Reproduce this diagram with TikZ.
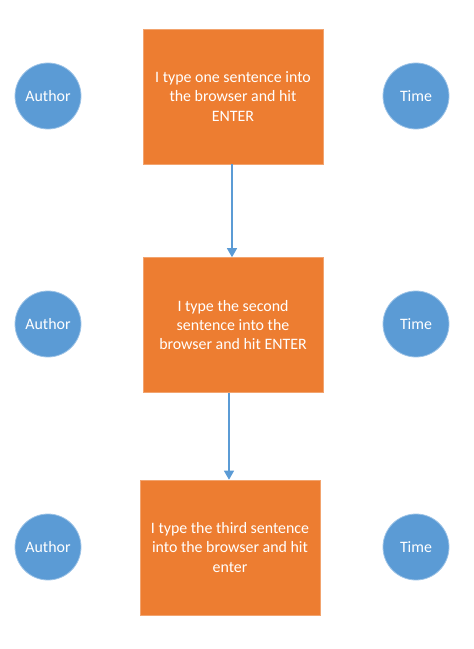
\documentclass[tikz,border=0pt]{standalone}
\usepackage{fontspec}
\setmainfont{Carlito}
\usetikzlibrary{arrows.meta}
\definecolor{offorange}{HTML}{ED7D31}
\definecolor{offblue}{HTML}{5B9BD5}
\tikzset{
  stepbox/.style={draw=offorange!70!white, line width=0.6bp, fill=offorange, text=white, minimum width=180bp, minimum height=135bp, align=center, font=\fontsize{15.9bp}{19.3bp}\selectfont, inner sep=0pt},
  roundel/.style={circle, fill=offblue, draw=offblue!60!white, line width=0.8bp, text=white, minimum size=66bp, inner sep=0pt, font=\fontsize{15.9bp}{18bp}\selectfont},
  flow/.style={draw=offblue, line width=1.2bp, -{Triangle[length=9bp,width=10bp]}}
}
\begin{document}
\begin{tikzpicture}[x=1bp,y=-1bp]
\useasboundingbox (0,0) rectangle (474,649);
\node[stepbox] (b1) at (233,96.5) {I type one sentence into\\the browser and hit\\ENTER};
\node[stepbox] (b2) at (233,325) {I type the second\\sentence into the\\browser and hit ENTER};
\node[stepbox] (b3) at (230,547.5) {I type the third sentence\\into the browser and hit\\enter};
\node[roundel] (a1) at (48,96) {Author};
\node[roundel] (t1) at (416,96) {Time};
\node[roundel] (a2) at (48,324) {Author};
\node[roundel] (t2) at (416,324) {Time};
\node[roundel] (a3) at (48,547) {Author};
\node[roundel] (t3) at (416,547) {Time};
\draw[flow] (b1.south -| 232,0) -- (b2.north -| 232,0);
\draw[flow] (b2.south -| 229,0) -- (b3.north -| 229,0);
\end{tikzpicture}
\end{document}
